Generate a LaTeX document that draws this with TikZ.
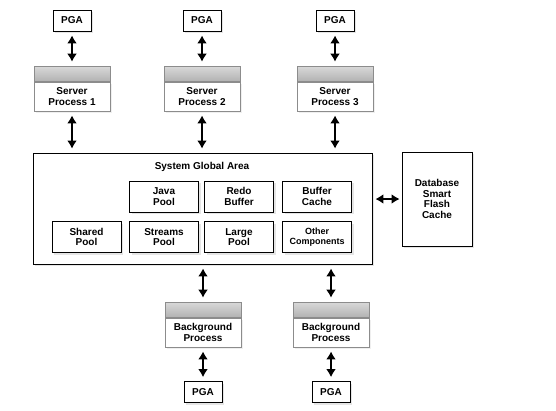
\documentclass[tikz,border=0pt]{standalone}
\usepackage{fontspec}
\setmainfont{Liberation Sans}
\usetikzlibrary{shadows, arrows.meta}

\tikzset{
  box/.style={draw, line width=0.9pt, fill=white, align=center, inner sep=1pt,
    drop shadow={shadow xshift=2pt, shadow yshift=-2pt, fill=black!20}},
  pgabox/.style={box, minimum width=38pt, minimum height=21pt},
  poolbox/.style={box, minimum width=69pt, minimum height=31pt},
  procbox/.style={draw=black!45, line width=0.9pt, fill=white, align=center, inner sep=1pt,
    minimum width=76pt, minimum height=29pt,
    drop shadow={shadow xshift=2pt, shadow yshift=-2pt, fill=black!12}},
  band/.style={draw=black!45, line width=0.9pt, top color=black!15, bottom color=black!30,
    minimum width=76pt, minimum height=15pt, inner sep=0pt},
  link/.style={{Latex[length=8pt,width=10pt]}-{Latex[length=8pt,width=10pt]}, line width=1.7pt,
    shorten <=4pt, shorten >=4pt}
}

\begin{document}
\begin{tikzpicture}[x=1pt, y=-1pt, font=\fontsize{10}{10.5}\selectfont\bfseries]
\useasboundingbox (0,0) rectangle (556,410);

% SGA
\node[box, minimum width=339pt, minimum height=111pt] (sga) at (202.5,208.5) {};
\node (sgatitle) at (202,167) {System Global Area};
\node[poolbox] (java) at (164,196.5) {Java\\Pool};
\node[poolbox] (redo) at (239,196.5) {Redo\\Buffer};
\node[poolbox] (buffer) at (317,196.5) {Buffer\\Cache};
\node[poolbox] (shared) at (86.5,237) {Shared\\Pool};
\node[poolbox] (streams) at (164,237) {Streams\\Pool};
\node[poolbox] (large) at (239,237) {Large\\Pool};
\node[poolbox, font=\fontsize{9}{10.5}\selectfont\bfseries] (other) at (317,237) {Other\\Components};

% Flash cache
\node[box, minimum width=70pt, minimum height=94pt] (flash) at (437,199) {Database\\Smart\\Flash\\Cache};
\draw[link, shorten <=3pt, shorten >=2pt] (sga.east |- flash.west) -- (flash.west);

% Server processes
\foreach \i/\x in {1/72, 2/202, 3/335} {
  \node[procbox] (sp\i) at (\x,96.5) {Server\\Process \i};
  \node[band, anchor=south] (sp\i band) at (sp\i.north) {};
  \node[pgabox] (pgasp\i) at (\x,20.5) {PGA};
  \draw[link] (pgasp\i) -- (sp\i band);
  \draw[link] (sp\i) -- (sp\i.south |- sga.north);
}

% Background processes
\foreach \i/\x in {1/203, 2/331} {
  \node[procbox] (bg\i) at (\x,332.5) {Background\\Process};
  \node[band, anchor=south] (bg\i band) at (bg\i.north) {};
  \node[pgabox] (pgabg\i) at (\x,392) {PGA};
  \draw[link] (bg\i band.north |- sga.south) -- (bg\i band);
  \draw[link] (bg\i) -- (pgabg\i);
}

\end{tikzpicture}
\end{document}
